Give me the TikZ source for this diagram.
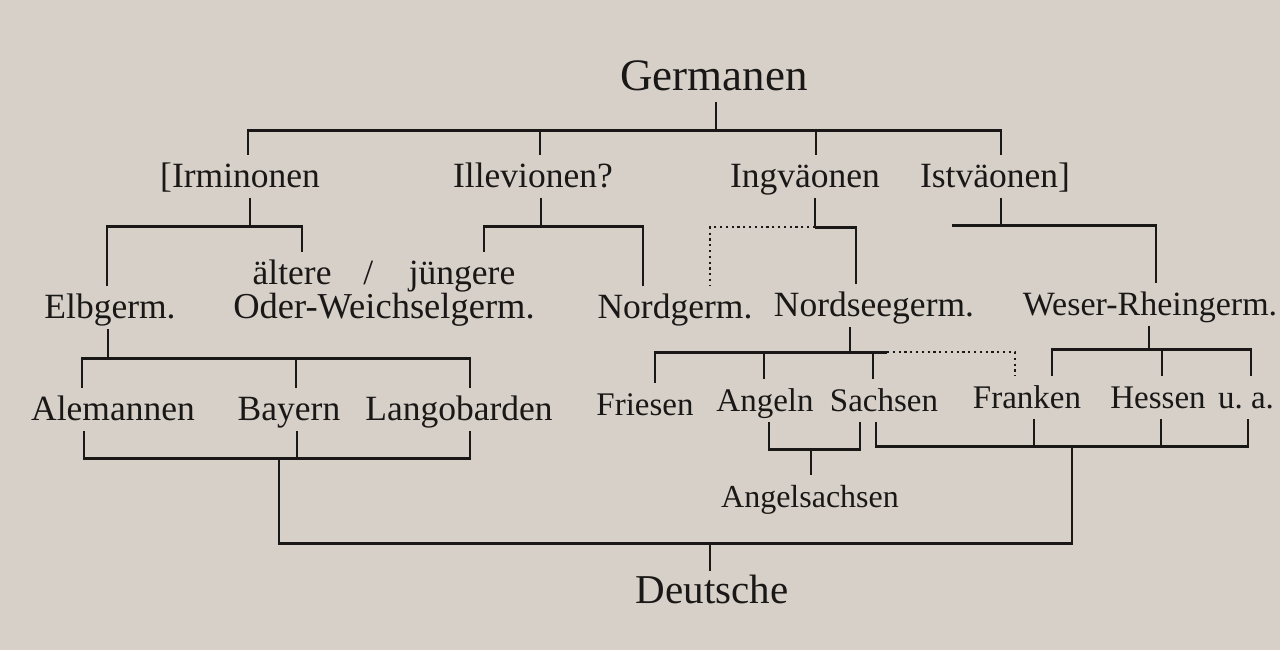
\documentclass[tikz,border=0pt]{standalone}
\usepackage{fontspec}
\setmainfont{Liberation Serif}
\definecolor{paper}{RGB}{214,208,200}
\definecolor{ink}{RGB}{26,24,23}

\begin{document}
\begin{tikzpicture}[x=1pt, y=-1pt, line width=2.6pt, color=ink]

    \tikzstyle{lab}=[font=\fontsize{35.5}{40}\selectfont, anchor=base, inner xsep=0pt,
                     inner ysep=7.5pt, text height=23.5pt, text depth=2.5pt]
    \tikzstyle{labs}=[lab, font=\fontsize{33}{40}\selectfont]
    \tikzstyle{dotline}=[line width=2.2pt, dash pattern=on 2.2pt off 3.6pt]

    \fill[paper] (0,0) rectangle (1280,650);
    \useasboundingbox (0,0) rectangle (1280,650);

    \node[lab, font=\fontsize{45}{50}\selectfont] (germ) at (714,91) {Germanen};

    \node[lab] (irm)    at (246,187)  {\llap{[}Irminonen};
    \node[lab] (ill)    at (533,187)  {Illevionen?};
    \node[lab] (ing)    at (805,187)  {Ingväonen};
    \node[lab] (ist)    at (989,187)  {Istväonen\rlap{]}};

    \node[lab] (elb)    at (110,318)  {Elbgerm.};
    \node[lab] (aelt)   at (384,284)  {ältere\hspace{0.9em}/\hspace{1em}jüngere};
    \node[lab, font=\fontsize{36.5}{40}\selectfont] (oder) at (384,318) {Oder-Weichselgerm.};
    \node[lab] (nordg)  at (675,318)  {Nordgerm.};
    \node[lab] (nsee)   at (874,316)  {Nordseegerm.};
    \node[lab, font=\fontsize{34}{40}\selectfont] (weser) at (1150,315) {Weser-Rheingerm.};

    \node[lab] (alem)   at (113,420)  {Alemannen};
    \node[lab] (bay)    at (289,420)  {Bayern};
    \node[lab] (lango)  at (459,420)  {Langobarden};
    \node[labs] (fries)  at (645,415)  {Friesen};
    \node[labs] (angeln) at (765,411)  {Angeln};
    \node[labs] (sachs)  at (884,411)  {Sachsen};
    \node[labs] (frank)  at (1027,408) {Franken};
    \node[labs] (hess)   at (1158,408) {Hessen};
    \node[labs] (ua)     at (1246,408) {u.\ a.};

    \node[lab, font=\fontsize{32}{40}\selectfont] (angs) at (810,507) {Angelsachsen};
    \node[lab, font=\fontsize{41}{46}\selectfont] (deut) at (712,603) {Deutsche};

    % Germanen
    \draw ([xshift=2pt]germ.south) -- ++(0,28) coordinate (g0);
    \draw ([xshift=2pt]irm.north) |- (g0) -| ([xshift=12pt]ist.north);
    \draw ([xshift=7pt]ill.north) -- ([xshift=7pt]ill.north |- g0);
    \draw ([xshift=11pt]ing.north) -- ([xshift=11pt]ing.north |- g0);

    % second row
    \draw ([xshift=4pt]irm.south) -- ++(0,28) coordinate (g1);
    \draw ([xshift=-3pt]elb.north) |- (g1) -| ([xshift=-82pt]aelt.north);
    \draw ([xshift=8pt]ill.south) -- ++(0,28) coordinate (g2);
    \draw ([xshift=100pt]aelt.north) |- (g2) -| ([xshift=-32pt]nordg.north);
    \draw ([xshift=10pt]ing.south) -- ++(0,29) coordinate (g3);
    \draw[dotline] (g3) -| ([xshift=35pt]nordg.north);
    \draw (g3) -| ([xshift=-18pt]nsee.north);
    \draw ([xshift=12pt]ist.south) -- ++(0,27) coordinate (g4);
    \draw ([xshift=-49pt]g4) -| ([xshift=6pt]weser.north);

    % third row
    \draw ([xshift=-2pt]elb.south) -- ++(0,29) coordinate (g5);
    \draw ([xshift=-31pt]alem.north) |- (g5) -| ([xshift=11pt]lango.north);
    \draw ([xshift=7pt]bay.north) -- ([xshift=7pt]bay.north |- g5);
    \draw ([xshift=-24pt]nsee.south) -- ++(0,25) coordinate (g10);
    \draw ([xshift=10pt]fries.north) |- (g10) -- ([xshift=3pt]sachs.north |- g10);
    \draw ([xshift=-1pt]angeln.north) -- ([xshift=-1pt]angeln.north |- g10);
    \draw ([xshift=-11pt]sachs.north) -- ([xshift=-11pt]sachs.north |- g10);
    \draw[dotline] ([xshift=3pt]sachs.north |- g10) -| ([xshift=-12pt]frank.north);
    \draw ([xshift=-1pt]weser.south) -- ++(0,23) coordinate (g11);
    \draw ([xshift=25pt]frank.north) |- (g11) -| ([xshift=5pt]ua.north);
    \draw ([xshift=4pt]hess.north) -- ([xshift=4pt]hess.north |- g11);

    % Angelsachsen, Deutsche
    \draw ([xshift=4pt]angeln.south) -- ++(0,27) coordinate (g9) -| ([xshift=-24pt]sachs.south);
    \draw ([xshift=1pt]angs.north) -- ([xshift=1pt]angs.north |- g9);
    \draw ([xshift=-29pt]alem.south) -- ++(0,27) coordinate (g6) -| ([xshift=11pt]lango.south);
    \draw ([xshift=8pt]bay.south) -- ([xshift=8pt]bay.south |- g6);
    \draw ([xshift=-8pt]sachs.south) -- ++(0,24) coordinate (g8) -| ([xshift=2pt]ua.south);
    \draw ([xshift=7pt]frank.south) -- ([xshift=7pt]frank.south |- g8);
    \draw ([xshift=3pt]hess.south) -- ([xshift=3pt]hess.south |- g8);
    \draw ([xshift=-2pt]deut.north) -- ++(0,-27) coordinate (g7);
    \draw ([xshift=-10pt]bay.south |- g6) |- (g7) -| ([xshift=45pt]frank.south |- g8);

\end{tikzpicture}
\end{document}
